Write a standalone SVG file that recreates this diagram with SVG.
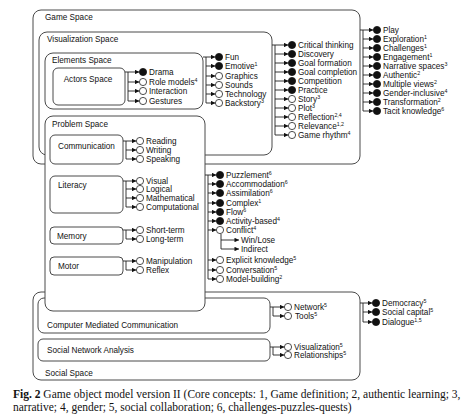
<svg xmlns="http://www.w3.org/2000/svg" width="474" height="417" viewBox="0 0 474 417">
<defs>
<style>
.box{fill:none;stroke:#4a4a4a;stroke-width:1}
.wbox{fill:#fff;stroke:#4a4a4a;stroke-width:1}
.t{font-family:"Liberation Sans",Arial,sans-serif;font-size:8.2px;fill:#111}
.s{font-size:5.3px}
.ln{fill:none;stroke:#222;stroke-width:0.9}
.a{marker-end:url(#ah)}
.f{fill:#111;stroke:#111;stroke-width:0.8}
.o{fill:#fff;stroke:#222;stroke-width:0.8}
.cap{font-family:"Liberation Serif","Times New Roman",serif;font-size:11.5px;fill:#111}
</style>
<marker id="ah" viewBox="0 0 6 6" refX="6" refY="3" markerWidth="5" markerHeight="4.5" markerUnits="userSpaceOnUse" orient="auto"><path d="M0,0 L6,3 L0,6 z" fill="#111"/></marker>
</defs>
<rect width="474" height="417" fill="#fff"/>

<g id="game-space"><rect class="box" x="33" y="10" width="327" height="154" rx="8"/><text class="t" x="45" y="20">Game Space</text></g>
<g id="visualization-space"><rect class="box" x="39" y="32" width="233" height="123" rx="8"/><text class="t" x="47" y="42">Visualization Space</text></g>
<g id="elements-space"><rect class="box" x="45" y="53" width="158" height="56" rx="8"/><text class="t" x="52" y="63">Elements Space</text></g>
<g id="actors-space"><rect class="box" x="53" y="68" width="72" height="37" rx="5"/><text class="t" x="88" y="82" text-anchor="middle">Actors Space</text></g>
<g id="social-space"><rect class="box" x="33" y="292" width="327" height="88" rx="8"/><text class="t" x="45" y="376">Social Space</text></g>
<g id="cmc"><rect class="box" x="38" y="298" width="232" height="35" rx="6"/><text class="t" x="47" y="328">Computer Mediated Communication</text></g>
<g id="sna"><rect class="box" x="38" y="339" width="232" height="22" rx="5"/><text class="t" x="47" y="353">Social Network Analysis</text></g>
<g id="problem-space"><rect class="wbox" x="45" y="116" width="160" height="195" rx="8"/><text class="t" x="52" y="127">Problem Space</text></g>
<g id="communication"><rect class="box" x="50" y="135" width="73" height="29" rx="5"/><text class="t" x="58" y="149">Communication</text></g>
<g id="literacy"><rect class="box" x="50" y="176" width="73" height="37" rx="5"/><text class="t" x="58" y="188">Literacy</text></g>
<g id="memory"><rect class="box" x="50" y="227" width="73" height="17" rx="4"/><text class="t" x="57" y="239">Memory</text></g>
<g id="motor"><rect class="box" x="50" y="257" width="73" height="18" rx="4"/><text class="t" x="58" y="269">Motor</text></g>

<g id="connectors" class="ln">
<path d="M360,30H363V111"/>
<path class="a" d="M363,30H373.4"/><path class="a" d="M363,39H373.4"/><path class="a" d="M363,48H373.4"/><path class="a" d="M363,57H373.4"/><path class="a" d="M363,66H373.4"/><path class="a" d="M363,75H373.4"/><path class="a" d="M363,84H373.4"/><path class="a" d="M363,93H373.4"/><path class="a" d="M363,102H373.4"/><path class="a" d="M363,111H373.4"/>
<path d="M272,45H275V135"/>
<path class="a" d="M275,45H288.4"/><path class="a" d="M275,54H288.4"/><path class="a" d="M275,63H288.4"/><path class="a" d="M275,72H288.4"/><path class="a" d="M275,81H288.4"/><path class="a" d="M275,90H288.4"/><path class="a" d="M275,99H288.4"/><path class="a" d="M275,108H288.4"/><path class="a" d="M275,117H288.4"/><path class="a" d="M275,126H288.4"/><path class="a" d="M275,135H288.4"/>
<path d="M203,57H206V103"/>
<path class="a" d="M206,57H215.4"/><path class="a" d="M206,66H215.4"/><path class="a" d="M206,76H215.4"/><path class="a" d="M206,85H215.4"/><path class="a" d="M206,94H215.4"/><path class="a" d="M206,103H215.4"/>
<path d="M125,72H128V101"/>
<path class="a" d="M128,72H139.4"/><path class="a" d="M128,82H139.4"/><path class="a" d="M128,91H139.4"/><path class="a" d="M128,101H139.4"/>
<path d="M123,141H126V159"/>
<path class="a" d="M126,141H136.4"/><path class="a" d="M126,150H136.4"/><path class="a" d="M126,159H136.4"/>
<path d="M123,181H126V207"/>
<path class="a" d="M126,181H136.4"/><path class="a" d="M126,189H136.4"/><path class="a" d="M126,198H136.4"/><path class="a" d="M126,207H136.4"/>
<path d="M123,230H126V239"/>
<path class="a" d="M126,230H136.4"/><path class="a" d="M126,239H136.4"/>
<path d="M123,261H126V270"/>
<path class="a" d="M126,261H136.4"/><path class="a" d="M126,270H136.4"/>
<path d="M205,175H208V279"/>
<path class="a" d="M208,175H216.4"/><path class="a" d="M208,184H216.4"/><path class="a" d="M208,193H216.4"/><path class="a" d="M208,203H216.4"/><path class="a" d="M208,212H216.4"/><path class="a" d="M208,221H216.4"/><path class="a" d="M208,230H216.4"/><path class="a" d="M208,260H216.4"/><path class="a" d="M208,270H216.4"/><path class="a" d="M208,279H216.4"/>
<path d="M221,234V249"/>
<path class="a" d="M221,240H239"/><path class="a" d="M221,249H239"/>
<path d="M270,307H273V316"/>
<path class="a" d="M273,307H284.4"/><path class="a" d="M273,316H284.4"/>
<path d="M270,347H273V355"/>
<path class="a" d="M273,347H284.4"/><path class="a" d="M273,355H284.4"/>
<path d="M360,303H363V322"/>
<path class="a" d="M363,303H372.4"/><path class="a" d="M363,312H372.4"/><path class="a" d="M363,322H372.4"/>
</g>

<g id="game-items">
<g id="play"><circle class="f" cx="377" cy="30" r="3.6"/><text class="t" x="383" y="33">Play</text></g>
<g id="exploration"><circle class="f" cx="377" cy="39" r="3.6"/><text class="t" x="383" y="42">Exploration<tspan class="s" dy="-3">1</tspan></text></g>
<g id="challenges"><circle class="f" cx="377" cy="48" r="3.6"/><text class="t" x="383" y="51">Challenges<tspan class="s" dy="-3">1</tspan></text></g>
<g id="engagement"><circle class="f" cx="377" cy="57" r="3.6"/><text class="t" x="383" y="60">Engagement<tspan class="s" dy="-3">1</tspan></text></g>
<g id="narrative-spaces"><circle class="f" cx="377" cy="66" r="3.6"/><text class="t" x="383" y="69">Narrative spaces<tspan class="s" dy="-3">3</tspan></text></g>
<g id="authentic"><circle class="f" cx="377" cy="75" r="3.6"/><text class="t" x="383" y="78">Authentic<tspan class="s" dy="-3">2</tspan></text></g>
<g id="multiple-views"><circle class="f" cx="377" cy="84" r="3.6"/><text class="t" x="383" y="87">Multiple views<tspan class="s" dy="-3">2</tspan></text></g>
<g id="gender-inclusive"><circle class="f" cx="377" cy="93" r="3.6"/><text class="t" x="383" y="96">Gender-inclusive<tspan class="s" dy="-3">4</tspan></text></g>
<g id="transformation"><circle class="f" cx="377" cy="102" r="3.6"/><text class="t" x="383" y="105">Transformation<tspan class="s" dy="-3">2</tspan></text></g>
<g id="tacit-knowledge"><circle class="f" cx="377" cy="111" r="3.6"/><text class="t" x="383" y="114">Tacit knowledge<tspan class="s" dy="-3">6</tspan></text></g>
</g>

<g id="vis-items">
<g id="critical-thinking"><circle class="f" cx="292" cy="45" r="3.6"/><text class="t" x="298" y="48">Critical thinking</text></g>
<g id="discovery"><circle class="f" cx="292" cy="54" r="3.6"/><text class="t" x="298" y="57">Discovery</text></g>
<g id="goal-formation"><circle class="f" cx="292" cy="63" r="3.6"/><text class="t" x="298" y="66">Goal formation</text></g>
<g id="goal-completion"><circle class="f" cx="292" cy="72" r="3.6"/><text class="t" x="298" y="75">Goal completion</text></g>
<g id="competition"><circle class="f" cx="292" cy="81" r="3.6"/><text class="t" x="298" y="84">Competition</text></g>
<g id="practice"><circle class="f" cx="292" cy="90" r="3.6"/><text class="t" x="298" y="93">Practice</text></g>
<g id="story"><circle class="o" cx="292" cy="99" r="3.6"/><text class="t" x="298" y="102">Story<tspan class="s" dy="-3">3</tspan></text></g>
<g id="plot"><circle class="o" cx="292" cy="108" r="3.6"/><text class="t" x="298" y="111">Plot<tspan class="s" dy="-3">3</tspan></text></g>
<g id="reflection"><circle class="o" cx="292" cy="117" r="3.6"/><text class="t" x="298" y="120">Reflection<tspan class="s" dy="-3">2,4</tspan></text></g>
<g id="relevance"><circle class="o" cx="292" cy="126" r="3.6"/><text class="t" x="298" y="129">Relevance<tspan class="s" dy="-3">1,2</tspan></text></g>
<g id="game-rhythm"><circle class="o" cx="292" cy="135" r="3.6"/><text class="t" x="298" y="138">Game rhythm<tspan class="s" dy="-3">4</tspan></text></g>
</g>

<g id="elements-items">
<g id="fun"><circle class="f" cx="219" cy="57" r="3.6"/><text class="t" x="225" y="60">Fun</text></g>
<g id="emotive"><circle class="f" cx="219" cy="66" r="3.6"/><text class="t" x="225" y="69">Emotive<tspan class="s" dy="-3">1</tspan></text></g>
<g id="graphics"><circle class="o" cx="219" cy="76" r="3.6"/><text class="t" x="225" y="79">Graphics</text></g>
<g id="sounds"><circle class="o" cx="219" cy="85" r="3.6"/><text class="t" x="225" y="88">Sounds</text></g>
<g id="technology"><circle class="o" cx="219" cy="94" r="3.6"/><text class="t" x="225" y="97">Technology</text></g>
<g id="backstory"><circle class="o" cx="219" cy="103" r="3.6"/><text class="t" x="225" y="106">Backstory<tspan class="s" dy="-3">3</tspan></text></g>
</g>

<g id="actors-items">
<g id="drama"><circle class="f" cx="143" cy="72" r="3.6"/><text class="t" x="149" y="75">Drama</text></g>
<g id="role-models"><circle class="o" cx="143" cy="82" r="3.6"/><text class="t" x="149" y="85">Role models<tspan class="s" dy="-3">4</tspan></text></g>
<g id="interaction"><circle class="o" cx="143" cy="91" r="3.6"/><text class="t" x="149" y="94">Interaction</text></g>
<g id="gestures"><circle class="o" cx="143" cy="101" r="3.6"/><text class="t" x="149" y="104">Gestures</text></g>
</g>

<g id="problem-sub-items">
<g id="reading"><circle class="o" cx="140" cy="141" r="3.6"/><text class="t" x="146" y="144">Reading</text></g>
<g id="writing"><circle class="o" cx="140" cy="150" r="3.6"/><text class="t" x="146" y="153">Writing</text></g>
<g id="speaking"><circle class="o" cx="140" cy="159" r="3.6"/><text class="t" x="146" y="162">Speaking</text></g>
<g id="visual"><circle class="o" cx="140" cy="181" r="3.6"/><text class="t" x="146" y="184">Visual</text></g>
<g id="logical"><circle class="o" cx="140" cy="189" r="3.6"/><text class="t" x="146" y="192">Logical</text></g>
<g id="mathematical"><circle class="o" cx="140" cy="198" r="3.6"/><text class="t" x="146" y="201">Mathematical</text></g>
<g id="computational"><circle class="o" cx="140" cy="207" r="3.6"/><text class="t" x="146" y="210">Computational</text></g>
<g id="short-term"><circle class="o" cx="140" cy="230" r="3.6"/><text class="t" x="146" y="233">Short-term</text></g>
<g id="long-term"><circle class="o" cx="140" cy="239" r="3.6"/><text class="t" x="146" y="242">Long-term</text></g>
<g id="manipulation"><circle class="o" cx="140" cy="261" r="3.6"/><text class="t" x="146" y="264">Manipulation</text></g>
<g id="reflex"><circle class="o" cx="140" cy="270" r="3.6"/><text class="t" x="146" y="273">Reflex</text></g>
</g>

<g id="problem-items">
<g id="puzzlement"><circle class="f" cx="220" cy="175" r="3.6"/><text class="t" x="226" y="178">Puzzlement<tspan class="s" dy="-3">6</tspan></text></g>
<g id="accommodation"><circle class="f" cx="220" cy="184" r="3.6"/><text class="t" x="226" y="187">Accommodation<tspan class="s" dy="-3">6</tspan></text></g>
<g id="assimilation"><circle class="f" cx="220" cy="193" r="3.6"/><text class="t" x="226" y="196">Assimilation<tspan class="s" dy="-3">6</tspan></text></g>
<g id="complex"><circle class="f" cx="220" cy="203" r="3.6"/><text class="t" x="226" y="206">Complex<tspan class="s" dy="-3">1</tspan></text></g>
<g id="flow"><circle class="f" cx="220" cy="212" r="3.6"/><text class="t" x="226" y="215">Flow<tspan class="s" dy="-3">6</tspan></text></g>
<g id="activity-based"><circle class="f" cx="220" cy="221" r="3.6"/><text class="t" x="226" y="224">Activity-based<tspan class="s" dy="-3">4</tspan></text></g>
<g id="conflict"><circle class="o" cx="220" cy="230" r="3.6"/><text class="t" x="226" y="233">Conflict<tspan class="s" dy="-3">4</tspan></text></g>
<g id="win-lose"><text class="t" x="241" y="243">Win/Lose</text></g>
<g id="indirect"><text class="t" x="241" y="252">Indirect</text></g>
<g id="explicit-knowledge"><circle class="o" cx="220" cy="260" r="3.6"/><text class="t" x="226" y="263">Explicit knowledge<tspan class="s" dy="-3">5</tspan></text></g>
<g id="conversation"><circle class="o" cx="220" cy="270" r="3.6"/><text class="t" x="226" y="273">Conversation<tspan class="s" dy="-3">5</tspan></text></g>
<g id="model-building"><circle class="o" cx="220" cy="279" r="3.6"/><text class="t" x="226" y="282">Model-building<tspan class="s" dy="-3">2</tspan></text></g>
</g>

<g id="social-items">
<g id="network"><circle class="o" cx="288" cy="307" r="3.6"/><text class="t" x="294" y="310">Network<tspan class="s" dy="-3">5</tspan></text></g>
<g id="tools"><circle class="o" cx="288" cy="316" r="3.6"/><text class="t" x="295" y="319">Tools<tspan class="s" dy="-3">5</tspan></text></g>
<g id="visualization"><circle class="o" cx="288" cy="347" r="3.6"/><text class="t" x="294" y="350">Visualization<tspan class="s" dy="-3">5</tspan></text></g>
<g id="relationships"><circle class="o" cx="288" cy="355" r="3.6"/><text class="t" x="294" y="358">Relationships<tspan class="s" dy="-3">5</tspan></text></g>
<g id="democracy"><circle class="f" cx="376" cy="303" r="3.6"/><text class="t" x="382" y="306">Democracy<tspan class="s" dy="-3">5</tspan></text></g>
<g id="social-capital"><circle class="f" cx="376" cy="312" r="3.6"/><text class="t" x="382" y="315">Social capital<tspan class="s" dy="-3">5</tspan></text></g>
<g id="dialogue"><circle class="f" cx="376" cy="322" r="3.6"/><text class="t" x="382" y="325">Dialogue<tspan class="s" dy="-3">1,5</tspan></text></g>
</g>

<g id="caption">
<text class="cap" x="13" y="398"><tspan font-weight="bold">Fig. 2</tspan>   Game object model version II (Core concepts: 1, Game definition; 2, authentic learning; 3,</text>
<text class="cap" x="13" y="411">narrative; 4, gender; 5, social collaboration; 6, challenges-puzzles-quests)</text>
</g>
</svg>
